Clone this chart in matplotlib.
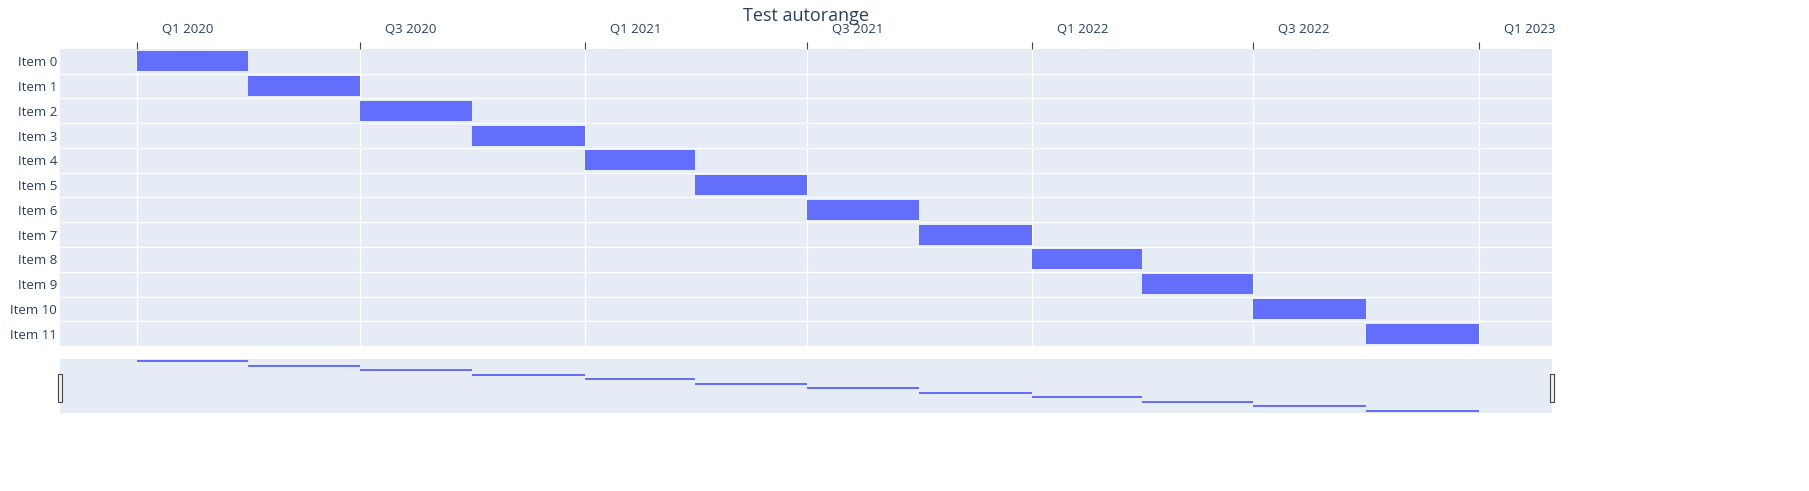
import matplotlib
matplotlib.use("Agg")
import matplotlib.pyplot as plt
import matplotlib.dates as mdates
import matplotlib.transforms as mtransforms
import pandas as pd
from matplotlib.patches import Rectangle

plt.rcParams["font.family"] = ["Open Sans", "DejaVu Sans"]

ITEMS = [f"Item {i}" for i in range(12)]
STARTS = ["2020-01-01", "2020-04-01", "2020-07-01", "2020-10-01",
          "2021-01-01", "2021-04-01", "2021-07-01", "2021-10-01",
          "2022-01-01", "2022-04-01", "2022-07-01", "2022-10-01"]
ENDS = ["2020-04-01", "2020-07-01", "2020-10-01", "2021-01-01",
        "2021-04-01", "2021-07-01", "2021-10-01", "2022-01-01",
        "2022-04-01", "2022-07-01", "2022-10-01", "2023-01-01"]
TICKS = ["2020-01-01", "2020-07-01", "2021-01-01", "2021-07-01",
         "2022-01-01", "2022-07-01", "2023-01-01"]
TICK_LABELS = ["Q1 2020", "Q3 2020", "Q1 2021", "Q3 2021", "Q1 2022", "Q3 2022", "Q1 2023"]
X_RANGE = ["2019-10-30", "2023-03-02"]

BG = "#E5ECF6"
BAR = "#636EFA"
TXT = "#2a3f5f"

starts = mdates.date2num(pd.to_datetime(STARTS))
ends = mdates.date2num(pd.to_datetime(ENDS))
ticks = mdates.date2num(pd.to_datetime(TICKS))
xr = mdates.date2num(pd.to_datetime(X_RANGE))

W, H = 1809, 491
fig = plt.figure(figsize=(W / 100, H / 100), dpi=100)
ax = fig.add_axes([60 / W, 1 - 346 / H, 1492 / W, 297 / H])
sl = fig.add_axes([60 / W, 1 - 413 / H, 1492 / W, 54 / H])

for a in (ax, sl):
    a.set_facecolor(BG)
    for s in a.spines.values():
        s.set_visible(False)
    a.set_xlim(*xr)
    a.set_ylim(11.5, -0.5)

ypos = list(range(len(ITEMS)))
ax.barh(ypos, ends - starts, left=starts, height=0.8, color=BAR, zorder=3)
for y in [p + 0.5 for p in ypos[:-1]]:
    ax.axhline(y, color="white", lw=1, zorder=1)
for t in ticks:
    ax.axvline(t, color="white", lw=1, zorder=1)

ax.set_yticks(ypos)
ax.set_yticklabels(ITEMS, fontsize=9.5, color=TXT)
ax.tick_params(axis="y", length=0, pad=2)
ax.xaxis.tick_top()
ax.set_xticks(ticks)
ax.set_xticklabels(TICK_LABELS, fontsize=9.5, color=TXT)
ax.tick_params(axis="x", length=5, color="#444444", pad=4)
off = mtransforms.ScaledTranslation(0.25, 0, fig.dpi_scale_trans)
for lab in ax.get_xticklabels():
    lab.set_horizontalalignment("left")
    lab.set_transform(lab.get_transform() + off)
fig.text((60 + 1552) / 2 / W, 1 - 16 / H, "Test autorange", ha="center", va="center",
         fontsize=13, color=TXT)

sl.barh(ypos, ends - starts, left=starts, height=0.5, color=BAR)
sl.set_xticks([])
sl.set_yticks([])
for px in (60, 1552):
    fig.patches.append(Rectangle(((px - 2) / W, 1 - 402 / H), 4 / W, 28 / H,
                                 transform=fig.transFigure, facecolor="#f2f2f2",
                                 edgecolor="#444444", lw=0.8))

fig.savefig("out.png", dpi=100, facecolor="white")
